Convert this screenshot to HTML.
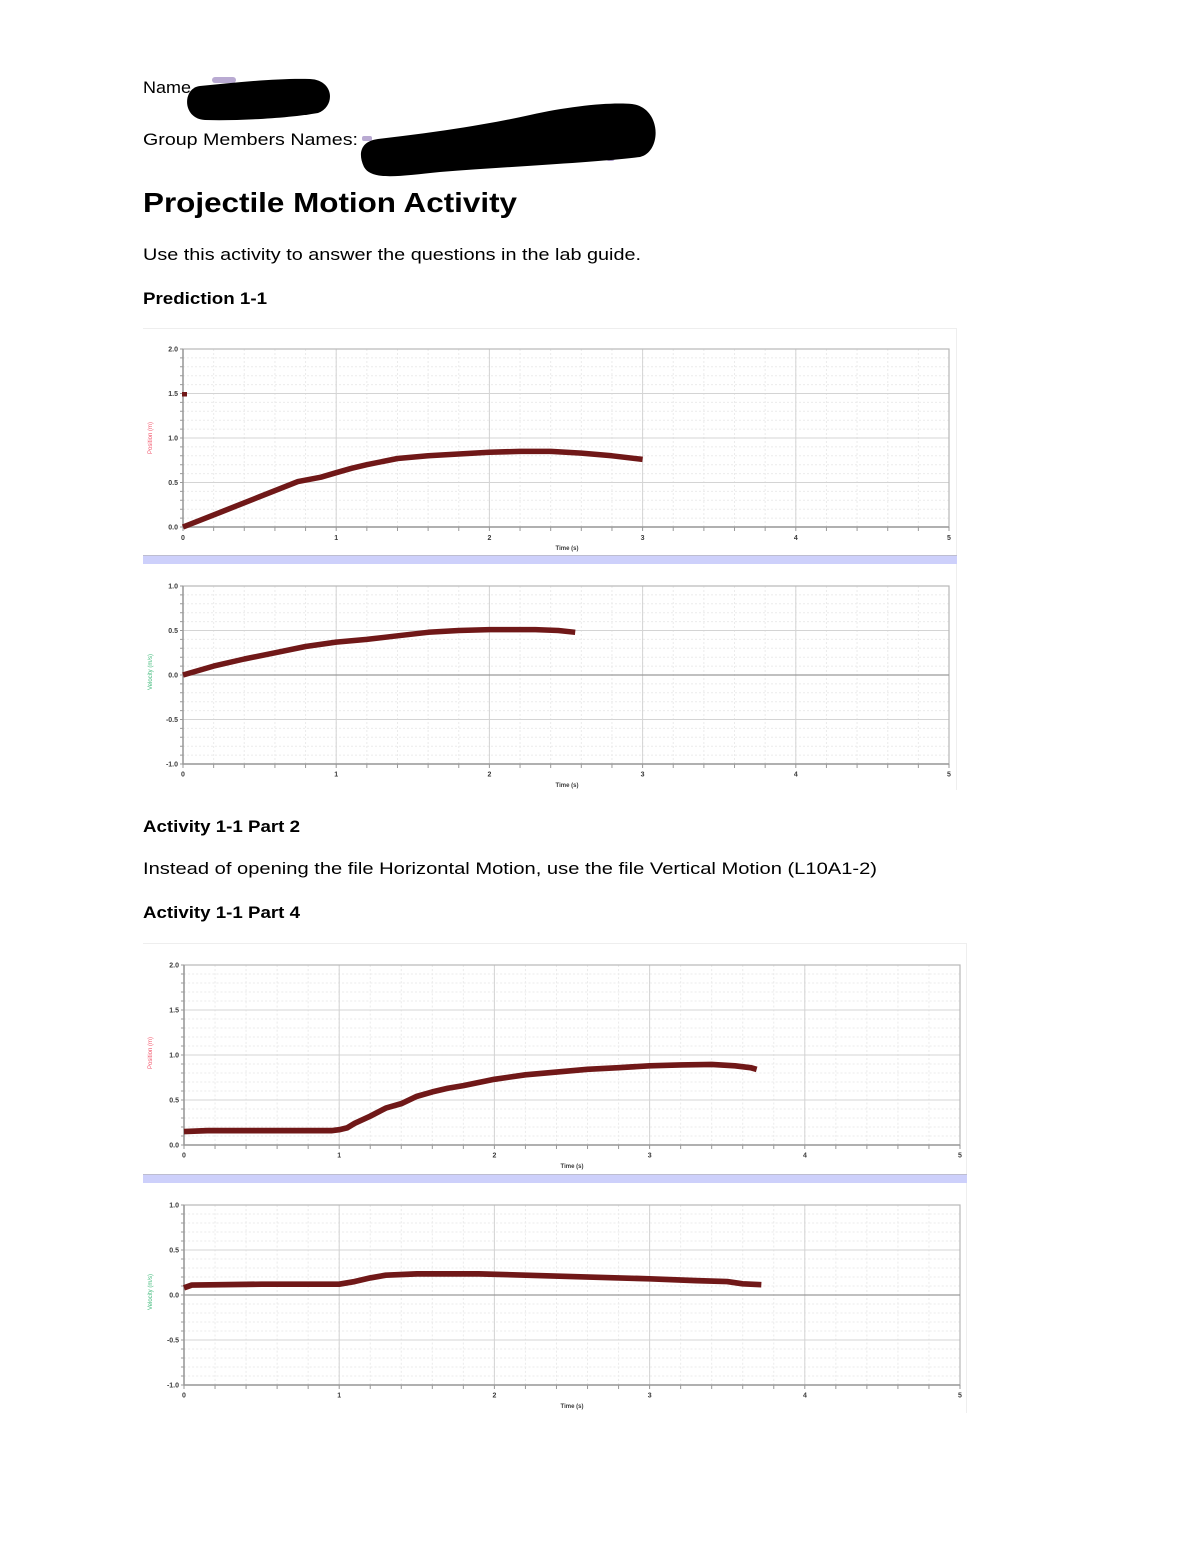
<!DOCTYPE html>
<html>
<head>
<meta charset="utf-8">
<style>
html,body{margin:0;padding:0;background:#fff;}
svg{display:block;}
.t{font-family:"Liberation Sans",sans-serif;fill:#000;}
.tk{font-family:"Liberation Sans",sans-serif;font-size:7px;fill:#3a3a3a;font-weight:bold;}
</style>
</head>
<body>
<svg width="1200" height="1553" viewBox="0 0 1200 1553" xmlns="http://www.w3.org/2000/svg">
<rect x="0" y="0" width="1200" height="1553" fill="#fff"/>
<defs>
  <g id="grid">
    <rect x="0" y="0" width="766" height="178" fill="#fff"/>
    <path d="M30.64,0v178 m30.64,-178v178 m30.64,-178v178 m30.64,-178v178 m30.64,-178v178 m30.64,-178v178 m30.64,-178v178 m30.64,-178v178 m30.64,-178v178 m30.64,-178v178 m30.64,-178v178 m30.64,-178v178 m30.64,-178v178 m30.64,-178v178 m30.64,-178v178 m30.64,-178v178 m30.64,-178v178 m30.64,-178v178 m30.64,-178v178 m30.64,-178v178 m30.64,-178v178 m30.64,-178v178 m30.64,-178v178 m30.64,-178v178" stroke="#ebebeb" stroke-width="1" stroke-dasharray="2 2" fill="none"/>
    <path d="M0,8.9h766 m-766,8.9h766 m-766,8.9h766 m-766,8.9h766 m-766,8.9h766 m-766,8.9h766 m-766,8.9h766 m-766,8.9h766 m-766,8.9h766 m-766,8.9h766 m-766,8.9h766 m-766,8.9h766 m-766,8.9h766 m-766,8.9h766 m-766,8.9h766 m-766,8.9h766 m-766,8.9h766 m-766,8.9h766 m-766,8.9h766" stroke="#ebebeb" stroke-width="1" stroke-dasharray="2 2" fill="none"/>
    <path d="M153.2,0v178 M306.4,0v178 M459.6,0v178 M612.8,0v178 M0,44.5h766 M0,89h766 M0,133.5h766" stroke="#d4d4d4" stroke-width="1" fill="none"/>
    <rect x="0" y="0" width="766" height="178" fill="none" stroke="#b8b8b8" stroke-width="1.2"/>
    <path d="M0,178v4 m30.64,-4v4 m30.64,-4v4 m30.64,-4v4 m30.64,-4v4 m30.64,-4v4 m30.64,-4v4 m30.64,-4v4 m30.64,-4v4 m30.64,-4v4 m30.64,-4v4 m30.64,-4v4 m30.64,-4v4 m30.64,-4v4 m30.64,-4v4 m30.64,-4v4 m30.64,-4v4 m30.64,-4v4 m30.64,-4v4 m30.64,-4v4 m30.64,-4v4 m30.64,-4v4 m30.64,-4v4 m30.64,-4v4 m30.64,-4v4 m30.64,-4v4" stroke="#999" stroke-width="1" fill="none"/>
    <path d="M-3,0h3 m-3,8.9h3 m-3,8.9h3 m-3,8.9h3 m-3,8.9h3 m-3,8.9h3 m-3,8.9h3 m-3,8.9h3 m-3,8.9h3 m-3,8.9h3 m-3,8.9h3 m-3,8.9h3 m-3,8.9h3 m-3,8.9h3 m-3,8.9h3 m-3,8.9h3 m-3,8.9h3 m-3,8.9h3 m-3,8.9h3 m-3,8.9h3 m-3,8.9h3" stroke="#999" stroke-width="1" fill="none"/>
    <path d="M0,0v178h766" stroke="#9a9a9a" stroke-width="1.5" fill="none"/>
  </g>
</defs>

<!-- Header text -->
<text class="t" x="143" y="93" font-size="17" textLength="48" lengthAdjust="spacingAndGlyphs">Name</text>
<text class="t" x="143" y="145" font-size="17" textLength="215" lengthAdjust="spacingAndGlyphs">Group Members Names:</text>

<!-- purple remnants -->
<rect x="212" y="77" width="24" height="6" rx="3" fill="#b9aad2"/>
<rect x="362" y="136" width="10" height="5" rx="2" fill="#b9aad2"/>
<rect x="606" y="150" width="9" height="11" rx="3" fill="#a996c6"/>
<rect x="486" y="154" width="10" height="6" rx="2" fill="#b9aad2"/>

<!-- redaction blobs -->
<path d="M200,86 C240,82 280,78 310,79 C334,80 336,106 318,113 C290,118 240,121 205,120 C182,119 182,88 200,86 Z" fill="#000"/>
<path d="M378,139 C430,133 480,126 530,115 C570,106 610,102 632,104 C662,108 662,152 640,157 C600,162 520,166 440,172 C400,176 372,181 364,167 C357,152 362,141 378,139 Z" fill="#000"/>

<text class="t" x="143" y="212" font-size="28" font-weight="bold" textLength="374" lengthAdjust="spacingAndGlyphs">Projectile Motion Activity</text>
<text class="t" x="143" y="260" font-size="17" textLength="498" lengthAdjust="spacingAndGlyphs">Use this activity to answer the questions in the lab guide.</text>
<text class="t" x="143" y="304" font-size="17" font-weight="bold" textLength="124" lengthAdjust="spacingAndGlyphs">Prediction 1-1</text>

<!-- Chart block 1 container -->
<path d="M143,328.5H957 M956.5,328V790" stroke="#eeeeee" stroke-width="1" fill="none"/>
<rect x="143" y="555" width="814" height="9" fill="#cdd0fb"/>
<path d="M143,555.5H957" stroke="#bdbdd0" stroke-width="1"/>

<!-- Chart A: Position -->
<use href="#grid" transform="translate(183,349)"/>
<g transform="translate(183,349)">
  <polyline points="0,178 38.3,162.9 76.6,147.7 114.9,132.6 137.9,128.2 153.2,123.7 168.5,119.3 183.8,115.7 214.5,109.5 245.1,106.8 275.8,105 306.4,103.2 337,102.4 367.7,102.4 398.3,104.1 429,106.8 459.6,110.4" fill="none" stroke="#701818" stroke-width="5.5" stroke-linejoin="round"/>
  <rect x="-1" y="43" width="5" height="4.5" fill="#701818"/>
</g>
<g class="tk" text-anchor="end">
  <text x="178" y="351.5">2.0</text>
  <text x="178" y="396">1.5</text>
  <text x="178" y="440.5">1.0</text>
  <text x="178" y="485">0.5</text>
  <text x="178" y="529.5">0.0</text>
</g>
<g class="tk" text-anchor="middle">
  <text x="183" y="540">0</text>
  <text x="336.2" y="540">1</text>
  <text x="489.4" y="540">2</text>
  <text x="642.6" y="540">3</text>
  <text x="795.8" y="540">4</text>
  <text x="949" y="540">5</text>
  <text x="567" y="550" font-size="6">Time (s)</text>
</g>
<text transform="translate(152,438) rotate(-90)" text-anchor="middle" font-family="Liberation Sans,sans-serif" font-size="6" fill="#f2566c">Position (m)</text>

<!-- Chart B: Velocity -->
<use href="#grid" transform="translate(183,586)"/>
<g transform="translate(183,586)">
  <path d="M0,89h766" stroke="#9a9a9a" stroke-width="1.3"/>
  <polyline points="0,89 30.6,80.1 61.3,73 91.9,66.8 122.6,60.5 153.2,56.1 183.8,53.4 214.5,49.8 245.1,46.3 275.8,44.5 306.4,43.6 352.4,43.6 375.3,44.5 392.2,46.3" fill="none" stroke="#701818" stroke-width="5.5" stroke-linejoin="round"/>
</g>
<g class="tk" text-anchor="end">
  <text x="178" y="588.5">1.0</text>
  <text x="178" y="633">0.5</text>
  <text x="178" y="677.5">0.0</text>
  <text x="178" y="722">-0.5</text>
  <text x="178" y="766.5">-1.0</text>
</g>
<g class="tk" text-anchor="middle">
  <text x="183" y="776.5">0</text>
  <text x="336.2" y="776.5">1</text>
  <text x="489.4" y="776.5">2</text>
  <text x="642.6" y="776.5">3</text>
  <text x="795.8" y="776.5">4</text>
  <text x="949" y="776.5">5</text>
  <text x="567" y="787" font-size="6">Time (s)</text>
</g>
<text transform="translate(152,672) rotate(-90)" text-anchor="middle" font-family="Liberation Sans,sans-serif" font-size="6" fill="#3cb878">Velocity (m/s)</text>

<!-- Middle text -->
<text class="t" x="143" y="832" font-size="17" font-weight="bold" textLength="157" lengthAdjust="spacingAndGlyphs">Activity 1-1 Part 2</text>
<text class="t" x="143" y="874" font-size="17" textLength="734" lengthAdjust="spacingAndGlyphs">Instead of opening the file Horizontal Motion, use the file Vertical Motion (L10A1-2)</text>
<text class="t" x="143" y="918" font-size="17" font-weight="bold" textLength="157" lengthAdjust="spacingAndGlyphs">Activity 1-1 Part 4</text>

<!-- Chart block 2 container -->
<path d="M143,943.5H967 M966.5,943V1413" stroke="#eeeeee" stroke-width="1" fill="none"/>
<rect x="143" y="1174" width="824" height="9" fill="#cdd0fb"/>
<path d="M143,1174.5H967" stroke="#bdbdd0" stroke-width="1"/>

<!-- Chart C: Position -->
<use href="#grid" transform="translate(184,965) scale(1.01305,1.01124)"/>
<g transform="translate(184,965) scale(1.01305,1.01124)">
  <polyline points="0,164.7 23,163.8 145.5,163.8 153.2,162.9 160.9,161.1 168.5,156.6 183.8,149.5 199.2,141.5 214.5,137.1 229.8,129.9 245.1,125.5 260.4,121.9 275.8,119.3 306.4,113 337,108.6 367.7,105.9 398.3,103.2 429,101.5 459.6,99.7 490.2,98.8 520.9,98.3 543.9,99.7 559.2,101.5 565.3,103.2" fill="none" stroke="#701818" stroke-width="5.6" stroke-linejoin="round"/>
</g>
<g class="tk" text-anchor="end">
  <text x="179" y="967.5">2.0</text>
  <text x="179" y="1012.5">1.5</text>
  <text x="179" y="1057.5">1.0</text>
  <text x="179" y="1102.5">0.5</text>
  <text x="179" y="1147.5">0.0</text>
</g>
<g class="tk" text-anchor="middle">
  <text x="184" y="1157.5">0</text>
  <text x="339.2" y="1157.5">1</text>
  <text x="494.5" y="1157.5">2</text>
  <text x="649.7" y="1157.5">3</text>
  <text x="805" y="1157.5">4</text>
  <text x="960" y="1157.5">5</text>
  <text x="572" y="1168" font-size="6">Time (s)</text>
</g>
<text transform="translate(152,1053) rotate(-90)" text-anchor="middle" font-family="Liberation Sans,sans-serif" font-size="6" fill="#f2566c">Position (m)</text>

<!-- Chart D: Velocity -->
<use href="#grid" transform="translate(184,1205) scale(1.01305,1.01124)"/>
<g transform="translate(184,1205) scale(1.01305,1.01124)">
  <path d="M0,89h766" stroke="#9a9a9a" stroke-width="1.3"/>
  <polyline points="0,81.9 7.7,79.2 76.6,78.3 153.2,78.3 168.5,75.7 183.8,72.1 199.2,69.4 229.8,68.1 291.1,68.1 337,69.4 383,70.8 429,72.1 459.6,73 505.6,74.8 536.2,75.7 551.5,77.9 569.9,78.8" fill="none" stroke="#701818" stroke-width="5.6" stroke-linejoin="round"/>
</g>
<g class="tk" text-anchor="end">
  <text x="179" y="1207.5">1.0</text>
  <text x="179" y="1252.5">0.5</text>
  <text x="179" y="1297.5">0.0</text>
  <text x="179" y="1342.5">-0.5</text>
  <text x="179" y="1387.5">-1.0</text>
</g>
<g class="tk" text-anchor="middle">
  <text x="184" y="1397.5">0</text>
  <text x="339.2" y="1397.5">1</text>
  <text x="494.5" y="1397.5">2</text>
  <text x="649.7" y="1397.5">3</text>
  <text x="805" y="1397.5">4</text>
  <text x="960" y="1397.5">5</text>
  <text x="572" y="1408" font-size="6">Time (s)</text>
</g>
<text transform="translate(152,1292) rotate(-90)" text-anchor="middle" font-family="Liberation Sans,sans-serif" font-size="6" fill="#3cb878">Velocity (m/s)</text>
</svg>
</body>
</html>
